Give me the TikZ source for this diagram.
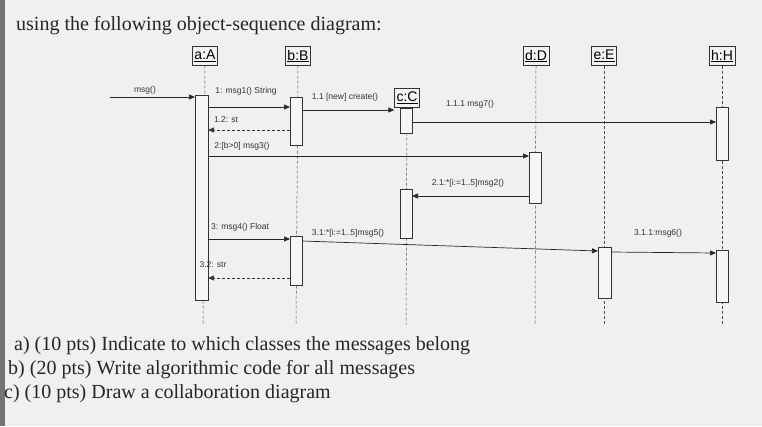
\documentclass[tikz,border=0pt]{standalone}
\usepackage{fontspec}
\setmainfont{Liberation Serif}
\setsansfont{Liberation Sans}
\usetikzlibrary{arrows.meta}
\begin{document}
\begin{tikzpicture}[x=1pt,y=-1pt,
 obj/.style={draw=black!80,fill=white!90!gray,inner sep=2pt,font=\sffamily\fontsize{14}{14}\selectfont,minimum height=19pt},
 act/.style={draw=black!80,fill=white!92!gray,line width=0.7pt},
 life/.style={densely dashed,black!70,line width=0.5pt},
 msgline/.style={-{Triangle[length=6pt,width=5pt]},black!85,line width=0.7pt},
 ret/.style={-{Triangle[length=6pt,width=5pt]},black!80,densely dashed,line width=0.6pt},
 lab/.style={font=\sffamily\fontsize{8.5}{9}\selectfont,text=black!80,inner sep=0pt},
 qtext/.style={font=\fontsize{20}{22}\selectfont,anchor=west,inner sep=0pt,text=black!85}]
\useasboundingbox (0,0) rectangle (762,426);
\fill[white!88!gray] (0,0) rectangle (762,426);
\fill[black!55] (0,0) rectangle (5,426);
\node[qtext] (title) at (16,26) {using the following object-sequence diagram:};
% objects
\node[obj] (A) at (205,56) {\underline{a:A}};
\node[obj] (B) at (298,56) {\underline{b:B}};
\node[obj] (C) at (407,98) {\underline{c:C}};
\node[obj] (D) at (536,56) {\underline{d:D}};
\node[obj] (E) at (604,56) {\underline{e:E}};
\node[obj] (H) at (722,56) {\underline{h:H}};
% lifelines
\coordinate (Ae) at (203,325); \coordinate (Be) at (296,325); \coordinate (Ce) at (406,325);
\coordinate (De) at (535,325); \coordinate (Ee) at (604,325); \coordinate (He) at (722,325);
\draw[life] (A.south) -- (Ae); \draw[life] (B.south) -- (Be); \draw[life] (C.south) -- (Ce);
\draw[life] (D.south) -- (De); \draw[life] (E.south) -- (Ee); \draw[life] (H.south) -- (He);
% activations
\draw[act] (195,95) rectangle (208,300);
\draw[act] (290,97) rectangle (302,145);
\draw[act] (400,108) rectangle (412,133);
\draw[act] (400,189) rectangle (412,238);
\draw[act] (529,152) rectangle (541,203);
\draw[act] (290,236) rectangle (302,285);
\draw[act] (598,247) rectangle (611,298);
\draw[act] (716,107) rectangle (728,160);
\draw[act] (716,250) rectangle (728,302);
% messages
\coordinate (m0) at (110,97);
\draw[msgline] (m0) -- (195,97);
\node[lab] (l0) at (145,90) {msg()};
\draw[msgline] (208,107) -- (290,107);
\node[lab] (l1) at (246,91) {1: msg1() String};
\draw[msgline] (302,110) -- (C.west |- 0,110);
\node[lab] (l2) at (345,97) {1.1 [new] create()};
\draw[msgline] (412,122) -- (716,122);
\node[lab] (l3) at (470,104) {1.1.1 msg7()};
\draw[ret] (290,130) -- (208,130);
\node[lab] (l4) at (226,120) {1.2: st};
\draw[msgline] (208,156) -- (529,156);
\node[lab] (l5) at (242,146) {2:[b>0] msg3()};
\draw[msgline] (529,196) -- (412,196);
\node[lab] (l6) at (468,183) {2.1:*[i:=1..5]msg2()};
\draw[msgline] (208,239) -- (290,239);
\node[lab] (l7) at (240,227) {3: msg4() Float};
\draw[msgline] (302,241) -- (598,251);
\node[lab] (l8) at (348,233) {3.1:*[i:=1..5]msg5()};
\draw[msgline] (611,252) -- (716,253);
\node[lab] (l9) at (658,233) {3.1.1:msg6()};
\draw[ret] (290,278) -- (208,278);
\node[lab] (l10) at (213,265) {3.2: str};
% questions
\node[qtext] (qa) at (14,346) {a) (10 pts) Indicate to which classes the messages belong};
\node[qtext] (qb) at (8,370) {b) (20 pts) Write algorithmic code for all messages};
\node[qtext] (qc) at (4,394) {c) (10 pts) Draw a collaboration diagram};
\end{tikzpicture}
\end{document}
